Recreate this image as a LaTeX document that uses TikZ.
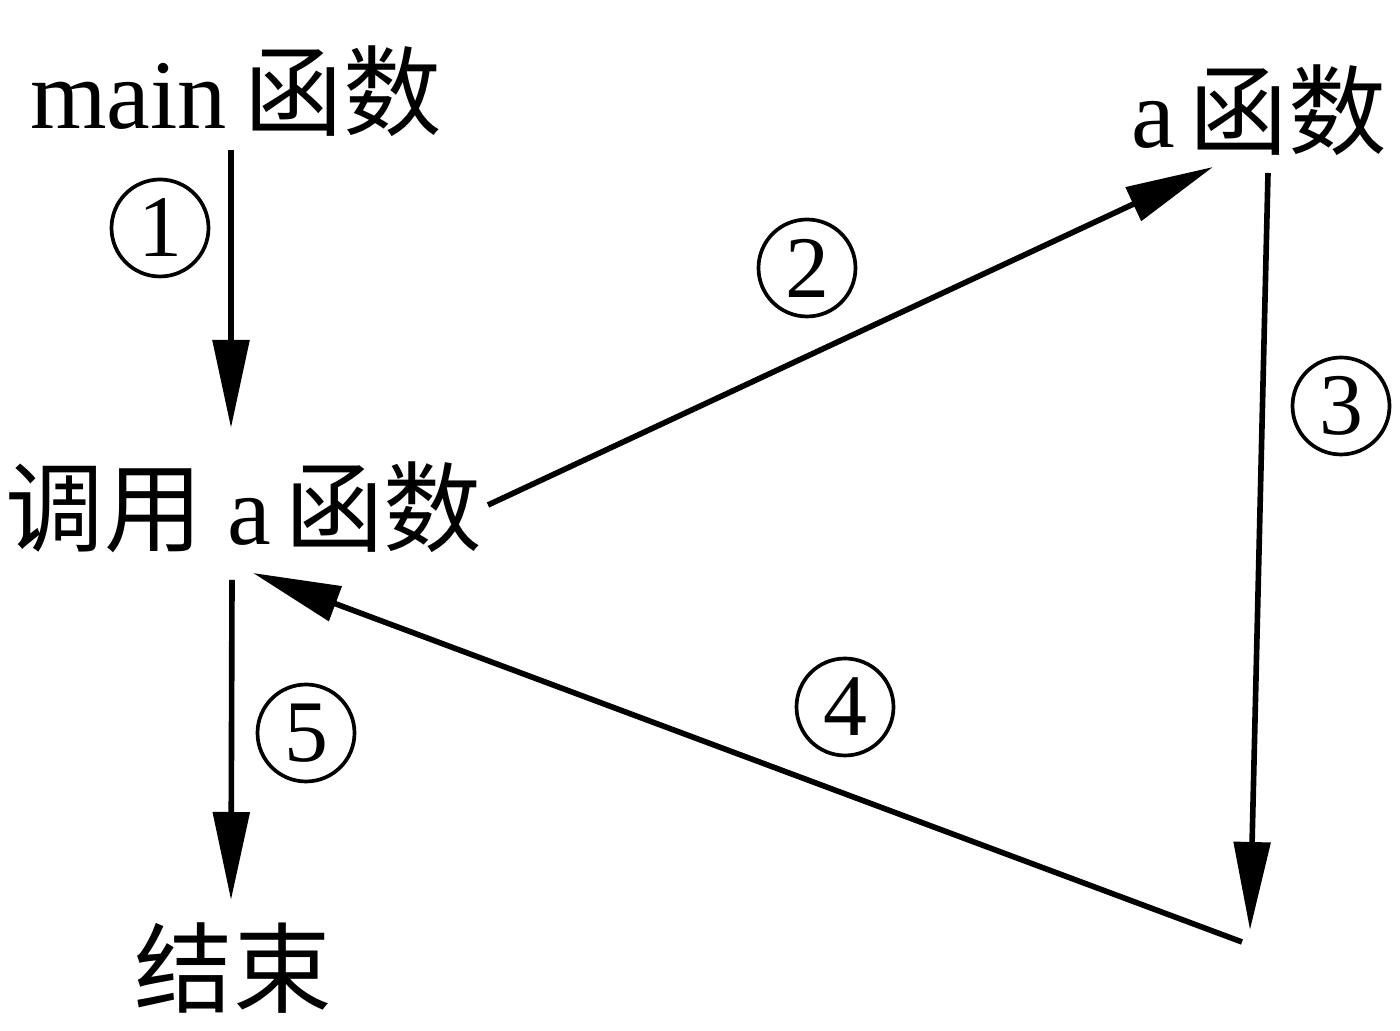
\documentclass[tikz,border=0pt]{standalone}
\usepackage{fontspec}
\setmainfont{Liberation Serif}
\newfontfamily\cjk{Noto Sans CJK SC}
\usetikzlibrary{arrows.meta,calc}
\begin{document}
\begin{tikzpicture}[
  txt/.style={inner sep=0pt, font=\fontsize{28pt}{30pt}\selectfont},
  num/.style={draw, circle, line width=1.05pt, minimum size=0.97cm, inner sep=0pt,
              font=\fontsize{25pt}{27pt}\selectfont},
  arr/.style={line width=1.6pt, -{Triangle[length=0.88cm,width=0.36cm]}},
]
\useasboundingbox (0,0) rectangle (14,10.31);
\fill[white] (0,0) rectangle (14,10.31);

\node[txt] (main) at (2.36,9.40) {main\hspace{0.18em}{\cjk 函数}};
\node[txt] (afun) at (12.59,9.21) {a\hspace{0.15em}{\cjk 函数}};
\node[txt] (call) at (2.44,5.24) {{\cjk 调用}\hspace{0.25em}a\hspace{0.15em}{\cjk 函数}};
\node[txt] (end)  at (2.33,0.63) {{\cjk 结束}};

\node[num] (n1) at (1.60,8.03) {1};
\node[num] (n2) at (8.07,7.63) {2};
\node[num] (n3) at (13.41,6.25) {3};
\node[num] (n4) at (8.45,3.24) {4};
\node[num] (n5) at (3.06,2.98) {5};

\coordinate (r3) at (12.50,1.01);
\coordinate (r4) at (12.42,0.89);

\draw[arr] ($(main.center)+(-0.05,-0.59)$) -- ($(call.center)+(-0.13,0.79)$);
\draw[arr] ($(call.center)+(2.44,0.02)$) -- ($(afun.center)+(-0.46,-0.57)$);
\draw[arr] ($(afun.center)+(0.09,-0.63)$) -- (r3);
\draw[arr] (r4) -- ($(call.center)+(0.09,-0.66)$);
\draw[arr] ($(call.center)+(-0.12,-0.73)$) -- ($(end.center)+(-0.02,0.68)$);
\end{tikzpicture}
\end{document}
